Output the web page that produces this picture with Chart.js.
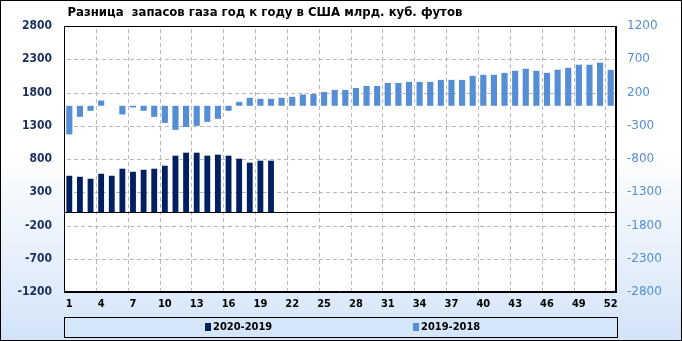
<!DOCTYPE html>
<html>
<head>
<meta charset="utf-8">
<script src="https://cdn.jsdelivr.net/npm/chart.js@4/dist/chart.umd.min.js"></script>
<style>
html,body{margin:0;padding:0;background:#fff;}
#wrap{width:682px;height:341px;position:relative;}
</style>
</head>
<body>
<div id="wrap"><canvas id="c" width="682" height="341"></canvas></div>
<script>
const chartTitle = "Разница  запасов газа год к году в США млрд. куб. футов";
const weeks = Array.from({length: 52}, (_, i) => String(i + 1));
const seriesNames = ["2020-2019", "2019-2018"];
const diff2020 = [548, 533, 503, 578, 548, 654, 608, 638, 654, 699, 850, 895, 895, 850, 865, 850, 805, 745, 775, 775];
const diff2019 = [-430, -166, -75, 80, 0, -130, -25, -75, -166, -257, -362, -317, -302, -241, -196, -75,
  60, 120, 105, 105, 120, 135, 170, 177, 207, 238, 238, 268, 299, 299, 344, 344, 359, 359, 359,
  390, 390, 390, 450, 466, 466, 496, 527, 557, 527, 496, 542, 572, 618, 618, 648, 542];
const leftTicks = [-1200, -700, -200, 300, 800, 1300, 1800, 2300, 2800];
const rightTicks = [-2800, -2300, -1800, -1300, -800, -300, 200, 700, 1200];

const DARK = '#002060';
const LIGHT = '#558ED5';
const GRID = '#b8b8b8';
const CF = '"DejaVu Sans Condensed", "DejaVu Sans", sans-serif';

const decor = {
  id: 'decor',
  beforeDraw(chart) {
    const ctx = chart.ctx, W = chart.width, H = chart.height, a = chart.chartArea;
    ctx.save();
    const g = ctx.createLinearGradient(0, 150, 0, H);
    g.addColorStop(0, '#ffffff');
    g.addColorStop(1, '#d3e4f8');
    ctx.fillStyle = '#ffffff';
    ctx.fillRect(0, 0, W, H);
    ctx.fillStyle = g;
    ctx.fillRect(0, 150, W, H - 150);
    ctx.fillStyle = '#ffffff';
    ctx.fillRect(a.left, a.top, a.right - a.left, a.bottom - a.top);
    ctx.restore();
  },
  beforeDatasetsDraw(chart) {
    const ctx = chart.ctx, a = chart.chartArea;
    const ys = chart.scales.y, xs = chart.scales.x;
    ctx.save();
    ctx.fillStyle = GRID;
    const L = Math.round(a.left) + 1, R = Math.round(a.right) - 1;
    const T = Math.round(a.top) + 1, B = Math.round(a.bottom) - 1;
    leftTicks.forEach(v => {
      const y = Math.round(ys.getPixelForValue(v));
      if (y > T + 1 && y < B - 1) {
        for (let x = L + 2; x < R; x += 7) ctx.fillRect(x, y, Math.min(4, R - x), 1);
      }
    });
    const half = (xs.getPixelForValue(1) - xs.getPixelForValue(0)) / 2;
    for (let i = 3; i < weeks.length; i += 3) {
      const x = Math.round(xs.getPixelForValue(i) - half);
      for (let y = T + 2; y < B; y += 7) ctx.fillRect(x, y, 1, Math.min(4, B - y));
    }
    const y0 = Math.round(ys.getPixelForValue(0));
    ctx.fillStyle = '#000';
    ctx.fillRect(Math.round(a.left), y0, Math.round(a.right - a.left), 1);
    ctx.restore();
  },
  afterDraw(chart) {
    const ctx = chart.ctx, W = chart.width, H = chart.height, a = chart.chartArea;
    ctx.save();
    ctx.strokeStyle = '#000';
    ctx.lineWidth = 1;
    ctx.strokeRect(Math.round(a.left) + 0.5, Math.round(a.top) + 0.5, Math.round(a.right - a.left) - 1, Math.round(a.bottom - a.top) - 1);
    ctx.strokeRect(0.5, 0.5, W - 1, H - 1);
    ctx.fillStyle = '#000';
    ctx.font = 'bold 13px ' + CF;
    ctx.textBaseline = 'middle';
    ctx.textAlign = 'left';
    ctx.fillText(chartTitle, 67.5, 12.5);
    const lx = Math.round(a.left) + 0.5, lw = 553, ly = 317.5, lh = 20;
    ctx.fillStyle = '#d6e6fa';
    ctx.fillRect(lx, ly, lw, lh);
    ctx.strokeRect(lx, ly, lw, lh);
    ctx.font = 'bold 11px ' + CF;
    const starts = [205, 413];
    chart.data.datasets.forEach((ds, i) => {
      const x = starts[i];
      ctx.fillStyle = ds.backgroundColor;
      ctx.fillRect(x, 323, 6, 8);
      ctx.fillStyle = '#000';
      ctx.fillText(ds.label, x + 8, 327.5);
    });
    ctx.restore();
  }
};

new Chart(document.getElementById('c'), {
  type: 'bar',
  data: {
    labels: weeks,
    datasets: [
      { label: seriesNames[0], data: diff2020, yAxisID: 'y', backgroundColor: DARK, grouped: false,
        barPercentage: 0.55, categoryPercentage: 1.0, order: 1 },
      { label: seriesNames[1], data: diff2019, yAxisID: 'y2', backgroundColor: LIGHT, grouped: false,
        barPercentage: 0.58, categoryPercentage: 1.0, order: 2 }
    ]
  },
  options: {
    responsive: false,
    animation: false,
    events: [],
    layout: { padding: { top: 26, bottom: 29, left: 0, right: 0 } },
    plugins: { legend: { display: false }, title: { display: false }, tooltip: { enabled: false } },
    scales: {
      x: {
        type: 'category',
        offset: true,
        grid: { display: false, drawTicks: false },
        border: { display: true, color: '#000' },
        ticks: {
          autoSkip: false, maxRotation: 0, minRotation: 0, padding: 6, color: '#000',
          font: { family: CF, size: 11, weight: 'bold' },
          callback(v, i) { return i % 3 === 0 ? this.getLabelForValue(v) : null; }
        },
        afterFit(s) { s.height = 20; }
      },
      y: {
        position: 'left',
        min: -1200, max: 2800,
        afterBuildTicks(s) { s.ticks = leftTicks.map(v => ({ value: v })); },
        grid: { display: false, drawTicks: false },
        border: { display: true, color: '#000' },
        ticks: { padding: 12, color: '#1a2f5e', font: { family: CF, size: 12, weight: 'bold' },
          callback(v) { return String(v); } },
        afterFit(s) { s.width = 64; }
      },
      y2: {
        position: 'right',
        min: -2800, max: 1200,
        afterBuildTicks(s) { s.ticks = rightTicks.map(v => ({ value: v })); },
        grid: { display: false, drawTicks: false },
        border: { display: true, color: '#000' },
        ticks: { padding: 11, color: LIGHT, font: { family: '"DejaVu Sans", sans-serif', size: 12 },
          callback(v) { return String(v); } },
        afterFit(s) { s.width = 66; }
      }
    }
  },
  plugins: [decor]
});
</script>
</body>
</html>
